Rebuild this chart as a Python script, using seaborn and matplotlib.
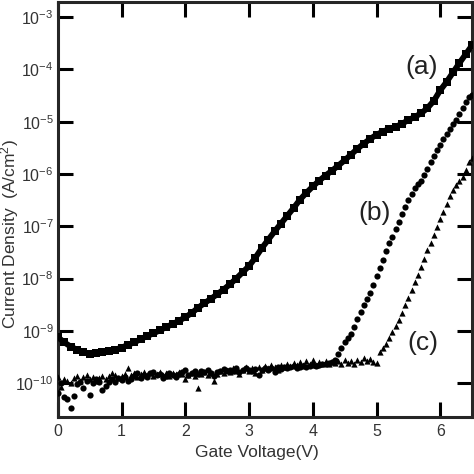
import numpy as np
import pandas as pd
import matplotlib
matplotlib.use("Agg")
import matplotlib.pyplot as plt
import seaborn as sns
from matplotlib.ticker import FixedLocator, NullLocator, MultipleLocator

# gate voltage sweeps (V)
voltage_a = np.round(np.arange(0, 6.51, 0.1), 2)
voltage_bc = np.round(np.arange(0, 6.51, 0.05), 2)

# log10 of current density (A/cm^2)
log_j_a = [-9.12, -9.22, -9.30, -9.36, -9.40, -9.45, -9.42, -9.41, -9.38, -9.36,
           -9.32, -9.27, -9.22, -9.16, -9.10, -9.05, -8.99, -8.93, -8.87, -8.81,
           -8.74, -8.66, -8.56, -8.47, -8.39, -8.30, -8.21, -8.11, -8.00, -7.88,
           -7.76, -7.60, -7.42, -7.26, -7.10, -6.95, -6.80, -6.65, -6.49, -6.36,
           -6.24, -6.13, -6.03, -5.94, -5.84, -5.74, -5.63, -5.52, -5.42, -5.33,
           -5.25, -5.19, -5.14, -5.10, -5.04, -4.97, -4.91, -4.84, -4.74, -4.60,
           -4.40, -4.24, -4.06, -3.88, -3.71, -3.54]

log_j_b = [-10.19, -10.00, -10.27, -10.30, -10.48, -10.25, -10.02, -9.98, -10.10, -9.95,
           -10.22, -10.00, -9.92, -9.97, -10.13, -10.05, -9.98, -9.93, -9.97, -9.90,
           -9.94, -9.88, -9.96, -9.92, -9.86, -9.81, -9.90, -9.84, -9.88, -9.80,
           -9.79, -9.85, -9.82, -9.90, -9.86, -9.80, -9.84, -9.88, -9.82, -9.78,
           -9.75, -9.84, -9.80, -9.77, -9.82, -9.76, -9.79, -9.74, -9.80, -9.86,
           -9.78, -9.76, -9.73, -9.77, -9.74, -9.76, -9.72, -9.78, -9.75, -9.72,
           -9.74, -9.77, -9.73, -9.84, -9.74, -9.71, -9.75, -9.72, -9.78, -9.70,
           -9.73, -9.69, -9.72, -9.70, -9.68, -9.71, -9.69, -9.67, -9.70, -9.68,
           -9.66, -9.68, -9.65, -9.64, -9.63, -9.62, -9.60, -9.56, -9.45, -9.33,
           -9.22, -9.14, -9.06, -8.93, -8.78, -8.64, -8.50, -8.40, -8.27, -8.12,
           -7.95, -7.79, -7.64, -7.48, -7.33, -7.20, -7.05, -6.91, -6.77, -6.63,
           -6.49, -6.38, -6.26, -6.20, -6.14, -6.02, -5.90, -5.78, -5.66, -5.55,
           -5.44, -5.33, -5.23, -5.14, -5.05, -4.97, -4.86, -4.74, -4.62, -4.53,
           -4.49]

log_j_c = [-9.89, -10.08, -9.92, -9.95, -10.00, -9.90, -9.86, -9.95, -9.88, -9.84,
           -9.92, -9.88, -9.95, -9.90, -9.86, -9.92, -9.87, -9.80, -9.85, -9.90,
           -9.86, -9.82, -9.71, -9.84, -9.80, -9.88, -9.83, -9.78, -9.85, -9.80,
           -9.86, -9.82, -9.79, -9.84, -9.81, -9.86, -9.80, -9.83, -9.78, -9.82,
           -9.92, -9.85, -9.80, -9.86, -10.10, -9.82, -9.78, -9.84, -9.80, -9.95,
           -9.82, -9.76, -9.80, -9.74, -9.78, -9.72, -9.76, -9.82, -9.74, -9.70,
           -9.76, -9.72, -9.80, -9.70, -9.74, -9.68, -9.72, -9.66, -9.70, -9.74,
           -9.66, -9.70, -9.64, -9.68, -9.62, -9.66, -9.60, -9.66, -9.58, -9.64,
           -9.56, -9.66, -9.60, -9.63, -9.58, -9.64, -9.60, -9.62, -9.58, -9.63,
           -9.55, -9.62, -9.58, -9.64, -9.55, -9.60, -9.52, -9.58, -9.54, -9.60,
           -9.62, -9.41, -9.33, -9.25, -9.14, -9.02, -8.90, -8.79, -8.65, -8.50,
           -8.38, -8.22, -8.07, -7.93, -7.77, -7.62, -7.46, -7.32, -7.17, -7.02,
           -6.86, -6.72, -6.57, -6.43, -6.31, -6.22, -6.13, -6.05, -5.93, -5.78,
           -5.70]

y_decades = [1e-10, 1e-9, 1e-8, 1e-7, 1e-6, 1e-5, 1e-4, 1e-3]

labels = ["(a)", "(b)", "(c)"]
label_pos = [(5.71, -3.96), (4.97, -6.75), (5.72, -9.23)]

df_a = pd.DataFrame({"V": voltage_a, "J": 10.0 ** np.array(log_j_a)})
df_b = pd.DataFrame({"V": voltage_bc, "J": 10.0 ** np.array(log_j_b)})
df_c = pd.DataFrame({"V": voltage_bc, "J": 10.0 ** np.array(log_j_c)})

sns.set_theme(style="ticks")
plt.rcParams['font.family'] = ['Liberation Sans', 'DejaVu Sans']
plt.rcParams['mathtext.fontset'] = 'custom'
plt.rcParams['mathtext.rm'] = 'Liberation Sans'
plt.rcParams['mathtext.it'] = 'Liberation Sans:italic'

fig = plt.figure(figsize=(4.74, 4.74), dpi=100)
ax = fig.add_axes([0.122, 0.12, 0.874, 0.876])

sns.lineplot(data=df_a, x="V", y="J", ax=ax, color="black", linewidth=4.2,
             marker="s", markersize=5.2, markeredgewidth=0, zorder=3)
sns.scatterplot(data=df_b, x="V", y="J", ax=ax, color="black", marker="o",
                s=20, linewidth=0, zorder=3)
sns.scatterplot(data=df_c, x="V", y="J", ax=ax, color="black", marker="^",
                s=20, linewidth=0, zorder=3)

ax.set_yscale("log")
ax.set_xlim(0, 6.5)
ax.set_ylim(10 ** -10.65, 10 ** -2.71)
ax.xaxis.set_major_locator(MultipleLocator(1))
ax.yaxis.set_major_locator(FixedLocator(y_decades))
ax.yaxis.set_minor_locator(NullLocator())

for spine in ax.spines.values():
    spine.set_linewidth(2.2)
ax.tick_params(which="major", direction="in", length=11, width=2.2,
               top=True, right=True, labelsize=11.5, pad=5, colors="black")
ax.tick_params(axis="x", labelcolor="#333333")
ax.tick_params(axis="y", labelcolor="#333333", pad=3)

ax.set_xlabel("Gate Voltage(V)", fontsize=12.5, color="#333333")
ax.set_ylabel("Current Density  (A/cm$^{2}$)", fontsize=12.5, color="#333333")
ax.xaxis.set_label_coords(0.48, -0.067)
ax.yaxis.set_label_coords(-0.088, 0.44)

for text, (x, ly) in zip(labels, label_pos):
    ax.text(x, 10 ** ly, text, fontsize=19, ha="center", va="center", color="#222222")

fig.savefig("out.png", dpi=100)
